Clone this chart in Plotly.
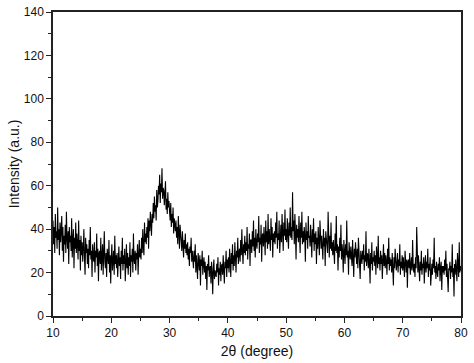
import plotly.graph_objects as go

two_theta_start = 10.0
two_theta_step = 0.1

intensity = [
    44, 33, 41, 29, 47, 36, 39, 31, 50, 35,
    40, 28, 43, 34, 38, 46, 30, 41, 25, 37,
    33, 42, 29, 48, 36, 31, 39, 24, 41, 34,
    37, 30, 45, 27, 35, 40, 22, 36, 31, 43,
    29, 38, 33, 26, 44, 30, 35, 21, 37, 28,
    34, 25, 31, 40, 27, 19, 36, 29, 33, 24,
    31, 22, 35, 28, 41, 26, 30, 18, 33, 27,
    25, 34, 20, 30, 27, 38, 23, 31, 16, 29,
    30, 24, 36, 21, 28, 33, 19, 26, 39, 25,
    22, 29, 18, 31, 27, 24, 35, 20, 28, 15,
    27, 33, 21, 25, 30, 19, 37, 24, 28, 22,
    29, 18, 26, 32, 23, 27, 17, 30, 24, 36,
    21, 28, 24, 31, 16, 26, 33, 22, 29, 19,
    27, 23, 34, 18, 28, 25, 31, 20, 38, 26,
    24, 30, 21, 29, 26, 33, 19, 28, 35, 27,
    31, 26, 36, 29, 40, 32, 28, 43, 34, 38,
    33, 41, 36, 45, 31, 44, 39, 48, 42, 37,
    47, 43, 52, 45, 55, 48, 51, 44, 58, 50,
    53, 60, 56, 65, 52, 61, 57, 68, 54, 59,
    58, 51, 55, 62, 49, 54, 47, 57, 50, 53,
    48, 44, 52, 41, 47, 43, 50, 38, 45, 42,
    39, 44, 36, 41, 33, 46, 37, 31, 42, 35,
    36, 30, 39, 33, 27, 35, 31, 38, 29, 33,
    28, 34, 26, 31, 23, 32, 29, 36, 25, 30,
    27, 22, 30, 25, 33, 20, 28, 24, 17, 29,
    25, 21, 28, 14, 26, 23, 30, 19, 24, 27,
    20, 25, 17, 23, 12, 24, 21, 28, 18, 22,
    23, 15, 25, 20, 10, 22, 26, 17, 21, 19,
    18, 24, 20, 27, 14, 22, 19, 25, 16, 23,
    24, 19, 28, 21, 15, 25, 22, 30, 18, 26,
    22, 27, 20, 31, 25, 18, 29, 24, 33, 21,
    28, 23, 34, 26, 20, 30, 27, 36, 24, 29,
    31, 25, 35, 28, 40, 30, 24, 33, 29, 37,
    28, 34, 30, 41, 26, 33, 31, 38, 23, 35,
    35, 29, 39, 32, 44, 30, 36, 27, 40, 33,
    31, 38, 34, 46, 29, 36, 33, 42, 25, 37,
    38, 32, 41, 35, 28, 44, 34, 39, 31, 47,
    33, 40, 36, 30, 45, 35, 41, 27, 38, 34,
    39, 33, 43, 36, 48, 31, 38, 35, 44, 29,
    36, 42, 34, 47, 38, 30, 43, 37, 49, 35,
    40, 34, 45, 38, 31, 43, 37, 50, 36, 41,
    35, 57, 39, 44, 33, 47, 38, 26, 42, 36,
    40, 34, 46, 37, 29, 43, 36, 48, 33, 39,
    34, 41, 37, 25, 43, 35, 39, 31, 46, 36,
    37, 32, 42, 35, 27, 40, 34, 45, 30, 38,
    33, 39, 24, 36, 31, 41, 34, 28, 44, 35,
    31, 37, 33, 26, 40, 32, 36, 23, 39, 34,
    35, 29, 48, 33, 27, 37, 31, 43, 30, 34,
    28, 35, 31, 24, 38, 30, 46, 29, 33, 21,
    32, 27, 36, 30, 42, 26, 33, 29, 20, 35,
    31, 24, 33, 28, 44, 27, 30, 19, 34, 29,
    26, 32, 29, 23, 35, 28, 18, 31, 27, 34,
    29, 24, 31, 22, 36, 27, 25, 17, 30, 26,
    24, 30, 26, 33, 21, 28, 25, 39, 23, 29,
    28, 22, 31, 25, 15, 29, 24, 34, 21, 27,
    25, 30, 23, 28, 19, 32, 26, 22, 37, 24,
    27, 21, 30, 24, 28, 17, 26, 33, 23, 29,
    22, 28, 25, 19, 31, 24, 36, 21, 27, 23,
    26, 20, 29, 24, 14, 27, 22, 31, 25, 21,
    24, 29, 20, 26, 23, 33, 19, 25, 22, 28,
    21, 27, 23, 18, 30, 24, 20, 26, 13, 25,
    26, 22, 29, 19, 24, 27, 21, 35, 23, 20,
    24, 18, 27, 22, 41, 25, 20, 28, 23, 16,
    25, 21, 30, 19, 24, 22, 27, 15, 23, 28,
    20, 25, 22, 31, 18, 24, 21, 27, 14, 23,
    24, 19, 26, 22, 36, 20, 23, 17, 25, 21,
    18, 24, 21, 27, 16, 22, 25, 12, 23, 20,
    23, 19, 26, 21, 30, 18, 24, 20, 11, 22,
    21, 25, 17, 23, 20, 33, 18, 22, 9, 24,
    19, 26, 21, 16, 29, 22, 18, 34, 20, 23,
    21,
]
two_theta = [round(two_theta_start + i * two_theta_step, 2) for i in range(len(intensity))]

x_ticks = [10, 20, 30, 40, 50, 60, 70, 80]
y_ticks = [0, 20, 40, 60, 80, 100, 120, 140]

fig = go.Figure()
fig.add_trace(go.Scatter(x=two_theta, y=intensity, mode="lines",
                         line=dict(color="black", width=1.1), showlegend=False))

font_family = "Liberation Sans, Arial, sans-serif"
axis_common = dict(
    showgrid=False, zeroline=False, showline=True, linecolor="#222222", linewidth=1.5,
    mirror=True, ticks="outside", ticklen=5, tickwidth=1.2, tickcolor="#222222",
    automargin=False,
    tickfont=dict(family=font_family, size=12, color="#111111"),
)
fig.update_layout(
    template="none",
    width=474, height=363,
    margin=dict(l=53, r=13, t=12, b=47),
    paper_bgcolor="white", plot_bgcolor="white",
    xaxis=dict(range=[10, 80], tickvals=x_ticks,
               minor=dict(ticks="outside", ticklen=3, dtick=5, tick0=10, tickcolor="#222222"),
               title=dict(text="2θ (degree)", standoff=7,
                          font=dict(family=font_family, size=14, color="#111111")),
               **axis_common),
    yaxis=dict(range=[0, 140], tickvals=y_ticks,
               minor=dict(ticks="outside", ticklen=3, dtick=10, tick0=0, tickcolor="#222222"),
               title=dict(text="Intensity (a.u.)", standoff=1,
                          font=dict(family=font_family, size=14, color="#111111")),
               **axis_common),
)
fig.write_html("out.html")
